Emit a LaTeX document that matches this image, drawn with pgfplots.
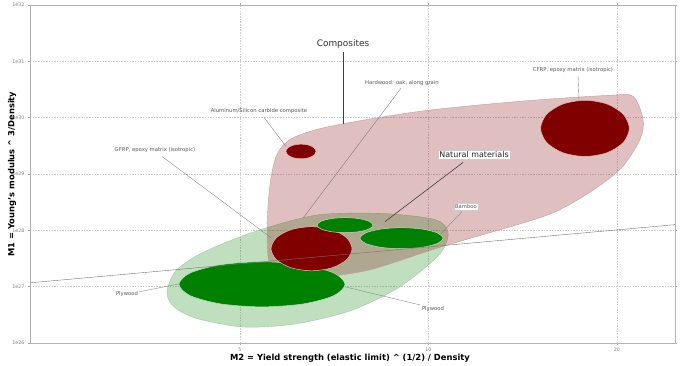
\documentclass[border=0pt]{standalone}
\usepackage{pgfplots}
\pgfplotsset{compat=1.18}
\usepackage{fontspec}
\setmainfont{DejaVu Sans}
\definecolor{dred}{RGB}{128,0,0}
\definecolor{dgreen}{RGB}{0,128,0}
\definecolor{lbl}{RGB}{85,85,85}
\begin{document}
\begin{tikzpicture}
\begin{axis}[
  scale only axis, width=645bp, height=338bp,
  at={(0,0)}, anchor=south west,
  xmin=0.3636, xmax=1.3937, ymin=26, ymax=32,
  xtick={0.69897,1,1.30103}, xticklabels={5,10,20},
  ytick={26,27,28,29,30,31,32},
  yticklabels={1e26,1e27,1e28,1e29,1e30,1e31,1e32},
  grid=major,
  major grid style={dash pattern=on 1.5pt off 1.2pt, gray!40, line width=0.4pt},
  axis line style={gray!60, line width=0.5pt},
  tick style={gray!70, line width=0.4pt},
  major tick length=2bp,
  tick align=outside,
  ticklabel style={font=\fontsize{4.8}{5}\selectfont, text=gray},
  xticklabel style={yshift=1bp},
  /pgf/number format/assume math mode=true,
  xlabel={M2 = Yield strength (elastic limit) \^{} (1/2) / Density},
  ylabel={M1 = Young's modulus \^{} 3/Density},
  label style={font=\fontsize{8.4}{9}\selectfont\bfseries},
  xlabel style={at={(axis description cs:0.496,-0.0444)}, anchor=center},
  ylabel style={at={(axis description cs:-0.0279,0.5)}, anchor=center},
  clip=true,
]
% Natural materials hull
\addplot[smooth cycle, fill=dgreen, fill opacity=0.25, draw=dgreen!40, line width=0.4pt] coordinates {
(0.5824,26.9080) (0.5952,27.2640) (0.6271,27.5311) (0.6750,27.7803) (0.7421,28.0473)
(0.8267,28.2788) (0.9305,28.2966) (1.0104,28.1898) (1.0311,27.9761) (1.0232,27.6557)
(0.9944,27.3352) (0.9465,26.9436) (0.8746,26.5697) (0.7868,26.3383) (0.7038,26.2848)
(0.6271,26.4451) (0.5920,26.6587)};
% Composites hull
\addplot[smooth cycle, fill=dred, fill opacity=0.25, draw=dred!40, line width=0.4pt] coordinates {
(0.7469,27.3352) (0.7421,28.0117) (0.7469,28.8129) (0.7581,29.3470) (0.7820,29.6318)
(0.8427,29.8454) (0.9864,30.1125) (1.1461,30.2905) (1.2899,30.3973) (1.3266,30.3795)
(1.3426,29.9701) (1.3378,29.6140) (1.3058,29.0799) (1.2467,28.5992) (1.1829,28.2432)
(1.0264,27.7269) (0.9066,27.2996) (0.8267,27.1750) (0.7708,27.2106)};
% Plywood
\addplot[smooth cycle, fill=dgreen, draw=white!75!dgreen, line width=0.5pt] coordinates {
(0.8667,27.0415) (0.8489,27.2418) (0.8004,27.3884) (0.7341,27.4421) (0.6678,27.3884) (0.6193,27.2418)
(0.6015,27.0415) (0.6193,26.8412) (0.6678,26.6946) (0.7341,26.6409) (0.8004,26.6946) (0.8489,26.8412)};
% GFRP
\addplot[smooth cycle, fill=dred, draw=white!75!dred, line width=0.5pt] coordinates {
(0.8779,27.6735) (0.8692,27.8693) (0.8455,28.0127) (0.8132,28.0652) (0.7809,28.0127) (0.7572,27.8693)
(0.7485,27.6735) (0.7572,27.4777) (0.7809,27.3343) (0.8132,27.2818) (0.8455,27.3343) (0.8692,27.4777)};
% Hardwood
\addplot[smooth cycle, fill=dgreen, draw=white!75!dgreen, line width=0.5pt] coordinates {
(0.9114,28.0919) (0.9054,28.1587) (0.8891,28.2075) (0.8667,28.2254) (0.8443,28.2075) (0.8280,28.1587)
(0.8220,28.0919) (0.8280,28.0251) (0.8443,27.9763) (0.8667,27.9584) (0.8891,27.9763) (0.9054,28.0251)};
% Bamboo
\addplot[smooth cycle, fill=dgreen, draw=white!75!dgreen, line width=0.5pt] coordinates {
(1.0232,27.8604) (1.0143,27.9539) (0.9900,28.0223) (0.9569,28.0473) (0.9238,28.0223) (0.8995,27.9539)
(0.8906,27.8604) (0.8995,27.7669) (0.9238,27.6985) (0.9569,27.6735) (0.9900,27.6985) (1.0143,27.7669)};
% Al/SiC
\addplot[smooth cycle, fill=dred, draw=white!75!dred, line width=0.5pt] coordinates {
(0.8204,29.4004) (0.8171,29.4654) (0.8084,29.5129) (0.7964,29.5304) (0.7844,29.5129) (0.7757,29.4654)
(0.7724,29.4004) (0.7757,29.3354) (0.7844,29.2879) (0.7964,29.2704) (0.8084,29.2879) (0.8171,29.3354)};
% CFRP
\addplot[smooth cycle, fill=dred, draw=white!75!dred, line width=0.5pt] coordinates {
(1.3207,29.8098) (1.3112,30.0590) (1.2853,30.2415) (1.2499,30.3083) (1.2145,30.2415) (1.1886,30.0590)
(1.1791,29.8098) (1.1886,29.5606) (1.2145,29.3781) (1.2499,29.3113) (1.2853,29.3781) (1.3112,29.5606)};
% selection line
\addplot[gray!90!black, line width=0.4pt] coordinates {(0.3636,27.0682) (1.3937,28.1008)};
% leader lines
\addplot[black!75, line width=0.8pt] coordinates {(0.8635,31.1629) (0.8635,29.8811)};
\addplot[black!75, line width=0.6pt] coordinates {(1.0551,29.2045) (0.9305,28.1542)};
\addplot[gray!90!black, line width=0.35pt] coordinates {(0.9561,30.5220) (0.8002,28.2254)};
\addplot[gray, line width=0.35pt] coordinates {(1.2388,30.7356) (1.2404,30.3083)};
\addplot[gray, line width=0.35pt] coordinates {(0.7373,30.0057) (0.7724,29.4894)};
\addplot[gray, line width=0.35pt] coordinates {(0.5744,29.3114) (0.7485,27.8693)};
\addplot[gray, line width=0.35pt] coordinates {(1.0535,28.3322) (1.0200,27.9405)};
\addplot[gray, line width=0.35pt] coordinates {(0.5377,26.9080) (0.6016,27.0504)};
\addplot[gray, line width=0.35pt] coordinates {(0.9864,26.6765) (0.8667,26.9970)};
% labels
\node[font=\fontsize{9}{10}\selectfont, text=black!80] at (axis cs:0.8635,31.3053) {Composites};
\node[font=\fontsize{8}{9}\selectfont, text=black!85, fill=white, draw=gray!40, line width=0.3pt, inner sep=1.5pt] at (axis cs:1.0727,29.3470) {Natural materials};
\node[font=\fontsize{5.3}{6}\selectfont, text=lbl] at (axis cs:0.9577,30.6110) {Hardwood: oak, along grain};
\node[font=\fontsize{5.3}{6}\selectfont, text=lbl] at (axis cs:1.2308,30.8424) {CFRP, epoxy matrix (isotropic)};
\node[font=\fontsize{5.3}{6}\selectfont, text=lbl] at (axis cs:0.7293,30.1125) {Aluminum/Silicon carbide composite};
\node[font=\fontsize{5.3}{6}\selectfont, text=lbl] at (axis cs:0.5632,29.4182) {GFRP, epoxy matrix (isotropic)};
\node[font=\fontsize{5.3}{6}\selectfont, text=lbl, fill=white, draw=gray!40, line width=0.3pt, inner sep=1.2pt] at (axis cs:1.0599,28.4212) {Bamboo};
\node[font=\fontsize{5.3}{6}\selectfont, text=lbl] at (axis cs:0.5185,26.8723) {Plywood};
\node[font=\fontsize{5.3}{6}\selectfont, text=lbl] at (axis cs:1.0072,26.6053) {Plywood};
\end{axis}
\pgfresetboundingbox
\path[use as bounding box] (-30bp,-23bp) rectangle (650bp,343bp);
\end{tikzpicture}
\end{document}
